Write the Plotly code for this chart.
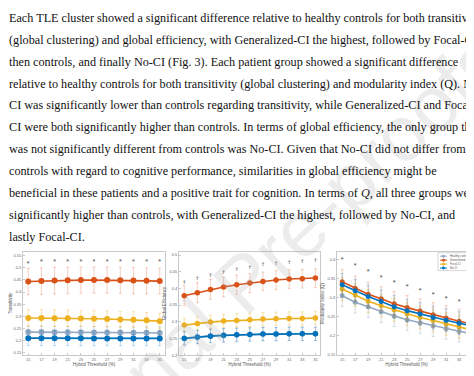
import plotly.graph_objects as go

W, H = 474, 376

# ---------------- data ----------------
thresholds = [15, 17, 19, 21, 23, 25, 27, 29, 31, 33, 35]
x_ticks = [15, 17, 19, 21, 23, 25, 27, 29, 31, 33, 35]
groups = ["Healthy control", "Generalized-CI", "Focal-CI", "No-CI"]

# Transitivity
hc_trans = [0.235, 0.235, 0.234, 0.234, 0.234, 0.233, 0.233, 0.233, 0.232, 0.232, 0.231]
gen_trans = [0.443, 0.445, 0.447, 0.448, 0.449, 0.449, 0.449, 0.448, 0.447, 0.446, 0.445]
focal_trans = [0.293, 0.293, 0.292, 0.292, 0.291, 0.290, 0.289, 0.287, 0.286, 0.284, 0.280]
noci_trans = [0.210, 0.210, 0.210, 0.210, 0.210, 0.209, 0.209, 0.209, 0.209, 0.209, 0.209]
hc_trans_sd = [0.025] * 11
gen_trans_sd = [0.055, 0.055, 0.055, 0.054, 0.054, 0.054, 0.054, 0.054, 0.054, 0.053, 0.053]
focal_trans_sd = [0.034, 0.034, 0.034, 0.034, 0.033, 0.033, 0.033, 0.033, 0.033, 0.032, 0.032]
noci_trans_sd = [0.030] * 11
star_trans = [0.519, 0.524, 0.524, 0.524, 0.524, 0.524, 0.524, 0.524, 0.524, 0.524, 0.524]

# Global efficiency
hc_eff = [0.251, 0.255, 0.258, 0.260, 0.261, 0.262, 0.263, 0.263, 0.264, 0.264, 0.264]
gen_eff = [0.378, 0.387, 0.397, 0.404, 0.411, 0.416, 0.421, 0.425, 0.428, 0.429, 0.431]
focal_eff = [0.290, 0.295, 0.299, 0.302, 0.304, 0.306, 0.308, 0.309, 0.310, 0.310, 0.311]
noci_eff = [0.250, 0.254, 0.257, 0.259, 0.261, 0.262, 0.263, 0.263, 0.264, 0.264, 0.264]
hc_eff_sd = [0.020] * 11
gen_eff_sd = [0.030, 0.030, 0.030, 0.029, 0.029, 0.029, 0.028, 0.028, 0.028, 0.028, 0.028]
focal_eff_sd = [0.020] * 11
noci_eff_sd = [0.020] * 11
dagger_eff = [0.417, 0.429, 0.439, 0.449, 0.456, 0.464, 0.471, 0.476, 0.479, 0.482, 0.484]

# Modularity index (Q)
hc_mod = [0.304, 0.287, 0.275, 0.262, 0.251, 0.241, 0.233, 0.225, 0.218, 0.211, 0.204]
gen_mod = [0.341, 0.324, 0.308, 0.296, 0.283, 0.273, 0.264, 0.254, 0.246, 0.237, 0.230]
focal_mod = [0.322, 0.306, 0.290, 0.278, 0.267, 0.256, 0.247, 0.239, 0.230, 0.222, 0.214]
noci_mod = [0.333, 0.317, 0.302, 0.289, 0.275, 0.265, 0.256, 0.247, 0.240, 0.232, 0.225]
hc_mod_sd = [0.028] * 11
gen_mod_sd = [0.032] * 11
focal_mod_sd = [0.030] * 11
noci_mod_sd = [0.030] * 11
star_mod = [0.400, 0.383, 0.368, 0.353, 0.340, 0.328, 0.318, 0.308, 0.297, 0.289, 0.282]

paragraph_lines = [
    "Each TLE cluster showed a significant difference relative to healthy controls for both transitivity",
    "(global clustering) and global efficiency, with Generalized-CI the highest, followed by Focal-CI,",
    "then controls, and finally No-CI (Fig. 3). Each patient group showed a significant difference",
    "relative to healthy controls for both transitivity (global clustering) and modularity index (Q). No-",
    "CI was significantly lower than controls regarding transitivity, while Generalized-CI and Focal-",
    "CI were both significantly higher than controls. In terms of global efficiency, the only group that",
    "was not significantly different from controls was No-CI. Given that No-CI did not differ from",
    "controls with regard to cognitive performance, similarities in global efficiency might be",
    "beneficial in these patients and a positive trait for cognition. In terms of <i>Q</i>, all three groups were",
    "significantly higher than controls, with Generalized-CI the highest, followed by No-CI, and",
    "lastly Focal-CI.",
]

# ---------------- styles ----------------
colors = {"Healthy control": "#95aac2", "Generalized-CI": "#d95319",
          "Focal-CI": "#edb120", "No-CI": "#0072bd"}
err_colors = {"Healthy control": "rgba(140,160,185,0.45)", "Generalized-CI": "rgba(217,83,25,0.35)",
              "Focal-CI": "rgba(237,177,32,0.45)", "No-CI": "rgba(0,114,189,0.35)"}


def px(xp):
    return xp / W


def py(yp):
    return 1 - yp / H


fig = go.Figure()


def add_group(series, sds, xa, ya, msize, order):
    for g in order:
        fig.add_trace(go.Scatter(
            x=thresholds, y=series[g], xaxis=xa, yaxis=ya, mode="lines+markers",
            line=dict(color=colors[g], width=1.6),
            marker=dict(color=colors[g], size=msize),
            error_y=dict(type="data", array=sds[g], color=err_colors[g], thickness=0.8, width=1.5),
            showlegend=False, name=g))


order = ["Healthy control", "Generalized-CI", "Focal-CI", "No-CI"]
add_group({"Healthy control": hc_trans, "Generalized-CI": gen_trans, "Focal-CI": focal_trans, "No-CI": noci_trans},
          {"Healthy control": hc_trans_sd, "Generalized-CI": gen_trans_sd, "Focal-CI": focal_trans_sd, "No-CI": noci_trans_sd},
          "x", "y", 6, order)
fig.add_trace(go.Scatter(x=thresholds, y=star_trans, xaxis="x", yaxis="y", mode="text",
                         text=["*"] * 11, textfont=dict(size=6, color="#333"), showlegend=False))

add_group({"Healthy control": hc_eff, "Generalized-CI": gen_eff, "Focal-CI": focal_eff, "No-CI": noci_eff},
          {"Healthy control": hc_eff_sd, "Generalized-CI": gen_eff_sd, "Focal-CI": focal_eff_sd, "No-CI": noci_eff_sd},
          "x2", "y2", 5.5, order)
fig.add_trace(go.Scatter(x=thresholds, y=dagger_eff, xaxis="x2", yaxis="y2", mode="text",
                         text=["†"] * 11, textfont=dict(size=6, color="#444"), showlegend=False))

add_group({"Healthy control": hc_mod, "Generalized-CI": gen_mod, "Focal-CI": focal_mod, "No-CI": noci_mod},
          {"Healthy control": hc_mod_sd, "Generalized-CI": gen_mod_sd, "Focal-CI": focal_mod_sd, "No-CI": noci_mod_sd},
          "x3", "y3", 5, order)
fig.add_trace(go.Scatter(x=thresholds, y=star_mod, xaxis="x3", yaxis="y3", mode="text",
                         text=["*"] * 11, textfont=dict(size=6, color="#333"), showlegend=False))

tickfont = dict(size=4, color="#666", family="Liberation Sans")
axis_common = dict(showline=True, mirror=True, linecolor="#c8c8c8", linewidth=0.8,
                   ticks="inside", ticklen=2, tickcolor="#c8c8c8", showgrid=False,
                   zeroline=False, tickfont=tickfont)
ydom = [py(349), py(245)]
xt = dict(text="Hybrid Threshold (%)", font=dict(size=4.5, color="#555", family="Liberation Sans"), standoff=2)

fig.update_layout(
    width=W, height=H, margin=dict(l=0, r=0, t=0, b=0),
    paper_bgcolor="white", plot_bgcolor="white",
    xaxis=dict(domain=[px(15), px(157)], range=[14.2, 35.8], anchor="y", tickvals=x_ticks, title=xt, **axis_common),
    yaxis=dict(domain=ydom, range=[0.14, 0.566], anchor="x", dtick=0.05, tick0=0,
               title=dict(text="Transitivity", font=dict(size=4.5, color="#555", family="Liberation Sans"), standoff=2),
               **axis_common),
    xaxis2=dict(domain=[px(171), px(312)], range=[14.2, 35.7], anchor="y2", tickvals=x_ticks, title=xt, **axis_common),
    yaxis2=dict(domain=ydom, range=[0.2, 0.51], anchor="x2", dtick=0.05, tick0=0,
                title=dict(text="Global Efficiency", font=dict(size=4.5, color="#555", family="Liberation Sans"), standoff=2),
                **axis_common),
    xaxis3=dict(domain=[px(329), px(468)], range=[14.2, 35.6], anchor="y3", tickvals=x_ticks, title=xt, **axis_common),
    yaxis3=dict(domain=ydom, range=[0.148, 0.42], anchor="x3", dtick=0.05, tick0=0,
                title=dict(text="Modularity Index (Q)", font=dict(size=4.5, color="#555", family="Liberation Sans"), standoff=2),
                **axis_common),
    showlegend=False,
)

annotations = []
# watermark
annotations.append(dict(text="Journal Pre-proofs", x=px(250), y=py(262), xref="paper", yref="paper",
                        xanchor="center", yanchor="middle", textangle=-43.5, showarrow=False,
                        font=dict(size=78, color="rgba(170,170,170,0.22)", family="Liberation Sans")))
# paragraph text
for i, line in enumerate(paragraph_lines):
    annotations.append(dict(text=line, x=px(-1), y=py(10 + 22 * i), xref="paper", yref="paper",
                            xanchor="left", yanchor="middle", showarrow=False, align="left",
                            font=dict(size=12.2, color="#111", family="Liberation Serif")))

# manual legend in third panel
shapes = [dict(type="rect", xref="paper", yref="paper", x0=px(430), x1=px(467), y0=py(264), y1=py(246),
               line=dict(color="#bbbbbb", width=0.6), fillcolor="white")]
for i, g in enumerate(groups):
    yy = 249.5 + 4 * i
    shapes.append(dict(type="line", xref="paper", yref="paper", x0=px(432), x1=px(439), y0=py(yy), y1=py(yy),
                       line=dict(color=colors[g], width=1)))
    shapes.append(dict(type="circle", xref="paper", yref="paper", x0=px(434), x1=px(437),
                       y0=py(yy + 1.5), y1=py(yy - 1.5), line=dict(width=0), fillcolor=colors[g]))
    annotations.append(dict(text=g, x=px(440), y=py(yy), xref="paper", yref="paper", xanchor="left",
                            yanchor="middle", showarrow=False, font=dict(size=2.8, color="#555", family="Liberation Sans")))

fig.update_layout(annotations=annotations, shapes=shapes)
fig.write_html("out.html")
